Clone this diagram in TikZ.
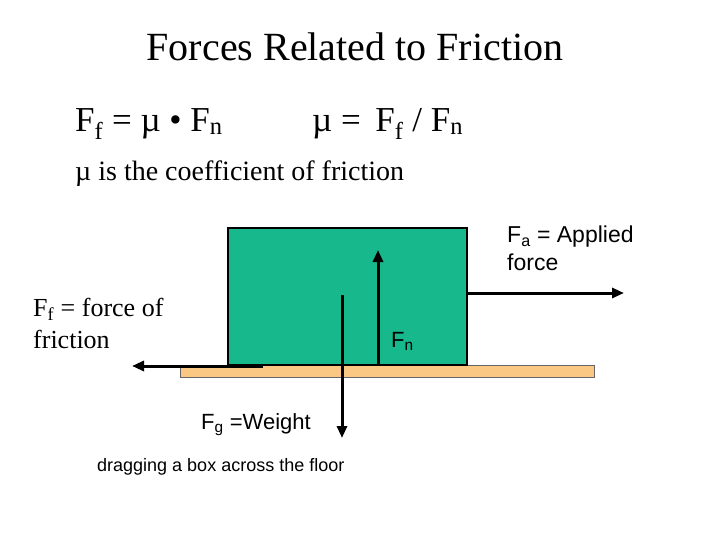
\documentclass[tikz,border=0pt]{standalone}
\usepackage{fontspec}
\setmainfont{Liberation Serif}
\setsansfont{Liberation Sans}
\usetikzlibrary{arrows.meta}
\definecolor{boxgreen}{RGB}{22,184,140}
\definecolor{floorc}{RGB}{250,200,130}
\tikzset{force/.style={line width=3pt,-{Triangle[length=12pt,width=10pt]}},
 lab/.style={anchor=north west,inner sep=0pt,align=left}}
\begin{document}
\begin{tikzpicture}[x=1pt,y=-1pt]
\useasboundingbox (0,0) rectangle (720,540);
\fill[white] (0,0) rectangle (720,540);
\node[inner sep=0pt,font=\fontsize{40}{44}\selectfont] (title) at (355,47) {Forces Related to Friction};
\node[anchor=west,inner sep=0pt,font=\fontsize{35}{40}\selectfont] (f1) at (75,124) {F\textsubscript{f} = µ • F\textsubscript{n}};
\node[anchor=west,inner sep=0pt,font=\fontsize{35}{40}\selectfont] (f2) at (312,124) {µ = \,F\textsubscript{f} / F\textsubscript{n}};
\node[anchor=west,inner sep=0pt,font=\fontsize{28}{32}\selectfont] (f3) at (75,174) {µ is the coefficient of friction};
\fill[floorc,draw=black!60,line width=0.7pt] (180,365) rectangle (594,377);
\node[draw=black,line width=1.3pt,fill=boxgreen,minimum width=239pt,minimum height=137pt,inner sep=0pt] (box) at (347.5,296.5) {};
\coordinate (fnS) at (378,365); \coordinate (fnE) at (378,250);
\coordinate (wS) at (342,295); \coordinate (wE) at (342,438);
\coordinate (aS) at (467,293); \coordinate (aE) at (624,293);
\coordinate (frS) at (263,366); \coordinate (frE) at (132,366);
\draw[force] (fnS) -- (fnE);
\draw[force] (wS) -- (wE);
\draw[force] (aS) -- (aE);
\draw[force] (frS) -- (frE);
\node[lab,font=\sffamily\fontsize{23}{28}\selectfont] (la) at (507,226) {F\textsubscript{a} = Applied\\force};
\node[lab,font=\fontsize{26}{32}\selectfont] (lf) at (33,298) {F\textsubscript{f} = force of\\friction};
\node[lab,font=\sffamily\fontsize{22}{26}\selectfont] (ln) at (391,332) {F\textsubscript{n}};
\node[lab,font=\sffamily\fontsize{22}{26}\selectfont] (lg) at (201,413) {F\textsubscript{g} =Weight};
\node[lab,font=\sffamily\fontsize{18}{21}\selectfont] (ld) at (97,458) {dragging a box across the floor};
\end{tikzpicture}
\end{document}
